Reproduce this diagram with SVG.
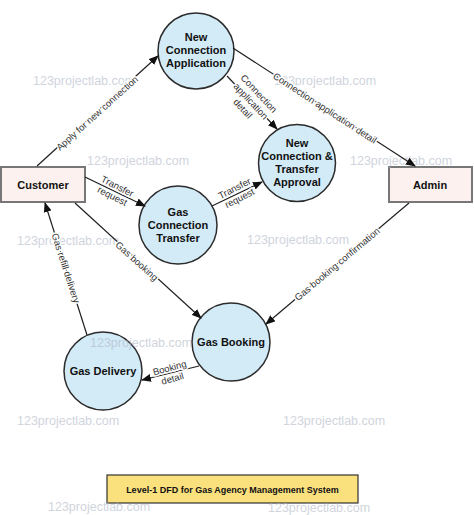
<svg xmlns="http://www.w3.org/2000/svg" width="474" height="515" viewBox="0 0 474 515">
<defs>
<marker id="arr" markerUnits="userSpaceOnUse" markerWidth="10" markerHeight="8" refX="9" refY="4" orient="auto">
<path d="M0,0 L10,4 L0,8 Z" fill="#111"/>
</marker>
<style>
.proc{fill:#d3ebf7;stroke:#2b2b2b;stroke-width:1.5}
.ent{fill:#fcf1ef;stroke:#777;stroke-width:2}
.nt{font-family:"Liberation Sans",Arial,sans-serif;font-size:11px;font-weight:bold;fill:#111;text-anchor:middle}
.ln{fill:none;stroke:#1e1e1e;stroke-width:1.2;marker-end:url(#arr)}
.lb{font-family:"Liberation Sans",Arial,sans-serif;font-size:9.5px;fill:#333;text-anchor:middle;stroke:#fff;stroke-width:3;paint-order:stroke;stroke-linejoin:round}
.wm{font-family:"Liberation Sans",Arial,sans-serif;font-size:12.5px;fill:#aab2c2;opacity:0.55}
</style>
</defs>
<rect width="474" height="515" fill="#fff"/>

<g id="customer"><rect class="ent" x="1" y="167" width="84" height="35"/><text class="nt" x="43" y="188.5">Customer</text></g>
<g id="admin"><rect class="ent" x="389" y="167" width="83" height="35"/><text class="nt" x="430" y="188.5">Admin</text></g>
<g id="new-connection-application"><circle class="proc" cx="196" cy="51" r="38"/><text class="nt" x="196" y="41"><tspan x="196">New</tspan><tspan x="196" dy="13">Connection</tspan><tspan x="196" dy="13">Application</tspan></text></g>
<g id="approval"><circle class="proc" cx="297" cy="163" r="38.5"/><text class="nt" x="297" y="147"><tspan x="297">New</tspan><tspan x="297" dy="13">Connection &amp;</tspan><tspan x="297" dy="13">Transfer</tspan><tspan x="297" dy="13">Approval</tspan></text></g>
<g id="gas-connection-transfer"><circle class="proc" cx="178" cy="225" r="39"/><text class="nt" x="178" y="216"><tspan x="178">Gas</tspan><tspan x="178" dy="13">Connection</tspan><tspan x="178" dy="13">Transfer</tspan></text></g>
<g id="gas-booking"><circle class="proc" cx="231" cy="342" r="39"/><text class="nt" x="231" y="346">Gas Booking</text></g>
<g id="gas-delivery"><circle class="proc" cx="103" cy="371" r="39"/><text class="nt" x="103" y="375">Gas Delivery</text></g>
<g id="title"><rect x="107" y="475" width="251" height="28" fill="#fbe07e" stroke="#333" stroke-width="1.2"/><text class="nt" x="232.5" y="492.5" style="font-size:9px">Level-1 DFD for Gas Agency Management System</text></g>

<g id="watermarks">
<text class="wm" x="33" y="85">123projectlab.com</text>
<text class="wm" x="87" y="165">123projectlab.com</text>
<text class="wm" x="274" y="85">123projectlab.com</text>
<text class="wm" x="350" y="165">123projectlab.com</text>
<text class="wm" x="17" y="245">123projectlab.com</text>
<text class="wm" x="247" y="244">123projectlab.com</text>
<text class="wm" x="90" y="347">123projectlab.com</text>
<text class="wm" x="17" y="425">123projectlab.com</text>
<text class="wm" x="283" y="425">123projectlab.com</text>
<text class="wm" x="48" y="511">123projectlab.com</text>
<text class="wm" x="268" y="512">123projectlab.com</text>
</g>

<g id="connectors">
<path class="ln" d="M37,166 L158,56"/>
<text class="lb" transform="translate(97,113) rotate(-42)" y="3.5">Apply for new connection</text>
<path class="ln" d="M233,48 L415,166"/>
<text class="lb" transform="translate(325,108) rotate(33)" y="3.5">Connection application detail</text>
<path class="ln" d="M227,76 L277,129"/>
<text class="lb" transform="translate(251,101) rotate(47)" y="-7.5"><tspan x="0">Connection</tspan><tspan x="0" dy="11">application</tspan><tspan x="0" dy="11">detail</tspan></text>
<path class="ln" d="M85,177 L145,206"/>
<text class="lb" transform="translate(115,191) rotate(27)" y="-2"><tspan x="0">Transfer</tspan><tspan x="0" dy="11">request</tspan></text>
<path class="ln" d="M212,206 L262,182"/>
<text class="lb" transform="translate(237,193) rotate(-27)" y="-2"><tspan x="0">Transfer</tspan><tspan x="0" dy="11">request</tspan></text>
<path class="ln" d="M75,203 L201,318"/>
<text class="lb" transform="translate(137,261) rotate(42)" y="3.5">Gas booking</text>
<path class="ln" d="M409,203 L266,324"/>
<text class="lb" transform="translate(337,264) rotate(-40)" y="3.5">Gas booking confirmation</text>
<path class="ln" d="M87,335 L45,203"/>
<text class="lb" transform="translate(66,268) rotate(72)" y="3.5">Gas refill delivery</text>
<path class="ln" d="M199,366 L142,380"/>
<text class="lb" transform="translate(171,373) rotate(-15)" y="-2"><tspan x="0">Booking</tspan><tspan x="0" dy="11">detail</tspan></text>
</g>
</svg>
